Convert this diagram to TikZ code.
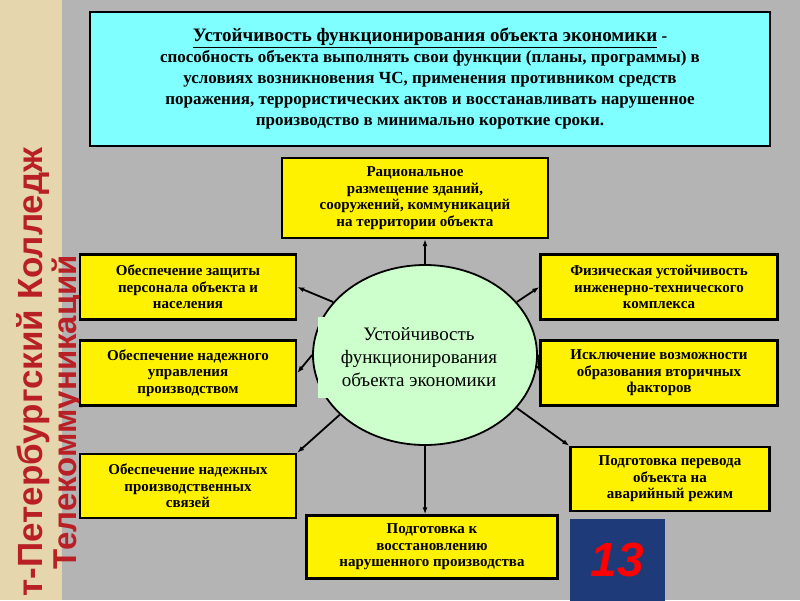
\documentclass[tikz,border=0pt]{standalone}
\usepackage{fontspec}
\setmainfont{Liberation Serif}
\newfontfamily\labelfont{Liberation Sans}
\usetikzlibrary{shapes.geometric}
\definecolor{bggray}{HTML}{B4B4B4}
\definecolor{strip}{HTML}{E6D6AE}
\definecolor{cyanbox}{HTML}{7FFFFF}
\definecolor{greenfill}{HTML}{CCFFCC}
\definecolor{titlered}{HTML}{B82025}
\definecolor{navy}{HTML}{1E3A78}
\tikzset{
  ybox/.style={draw, line width=2.4pt, fill=yellow, align=center, font=\bfseries\fontsize{15}{16.5}\selectfont, inner sep=1pt},
  link/.style={-{Latex[length=7pt,width=5pt]}, line width=1.8pt}
}
\usetikzlibrary{arrows.meta}
\begin{document}
\begin{tikzpicture}[x=1pt, y=-1pt]
	\useasboundingbox (0,0) rectangle (800,600);
	\fill[bggray] (0,0) rectangle (800,600);
	\fill[strip] (0,0) rectangle (62,600);
	
	\node (side1) at (33,372) [rotate=90, text=titlered, font=\labelfont\bfseries\fontsize{35}{35}\selectfont] {т-Петербургский Колледж};
	\node (side2) at (68,412) [rotate=90, text=titlered, font=\labelfont\bfseries\fontsize{33}{33}\selectfont] {Телекоммуникаций};
	
	\node (def) at (430,79) [draw, line width=2.2pt, fill=cyanbox, minimum width=680pt, minimum height=134pt, align=center, font=\bfseries\fontsize{17}{21}\selectfont] {\underline{\fontsize{19}{21}\selectfont Устойчивость функционирования объекта экономики} -\\способность объекта выполнять свои функции (планы, программы) в\\условиях возникновения ЧС, применения противником средств\\поражения, террористических актов и восстанавливать нарушенное\\производство в минимально короткие сроки.};
	
	\node (core) at (425,355) [ellipse, draw, line width=1.8pt, fill=greenfill, minimum width=224pt, minimum height=180pt] {};
	\node (corelbl) at (419,357) [fill=greenfill, minimum width=202pt, minimum height=81pt, align=center, font=\fontsize{19}{23}\selectfont] {Устойчивость\\функционирования\\объекта экономики};
	
	\node (top) at (415,198) [ybox, minimum width=266pt, minimum height=80pt] {Рациональное\\размещение зданий,\\сооружений, коммуникаций\\на территории объекта};
	\node (l1) at (188,287) [ybox, minimum width=216pt, minimum height=65pt] {Обеспечение защиты\\персонала объекта и\\населения};
	\node (l2) at (188,373) [ybox, minimum width=216pt, minimum height=65pt] {Обеспечение надежного\\управления\\производством};
	\node (l3) at (188,486) [ybox, minimum width=216pt, minimum height=64pt] {Обеспечение надежных\\производственных\\связей};
	\node (r1) at (659,287) [ybox, minimum width=237pt, minimum height=65pt] {Физическая устойчивость\\инженерно-технического\\комплекса};
	\node (r2) at (659,373) [ybox, minimum width=237pt, minimum height=65pt] {Исключение возможности\\образования вторичных\\факторов};
	\node (r3) at (670,479) [ybox, minimum width=199pt, minimum height=64pt] {Подготовка перевода\\объекта на\\аварийный режим};
	\node (bot) at (432,547) [ybox, minimum width=251pt, minimum height=63pt] {Подготовка к\\восстановлению\\нарушенного производства};
	
	\node (num) at (617,560) [fill=navy, minimum width=95pt, minimum height=82pt, text=red, font=\labelfont\bfseries\itshape\fontsize{48}{48}\selectfont] {13};
	
	\draw[link] (core.north) to (core.north |- top.south);
	\draw[link] (core.150) to (l1.east);
	\draw[link] (core.west) to (l2.east);
	\draw[link] (core.215) to (l3.north east);
	\draw[link] (core.30) to (r1.west);
	\draw[link] (core.east) to (r2.west);
	\draw[link] (core.330) to (r3.north west);
	\draw[link] (core.south) to (core.south |- bot.north);
\end{tikzpicture}
\end{document}
